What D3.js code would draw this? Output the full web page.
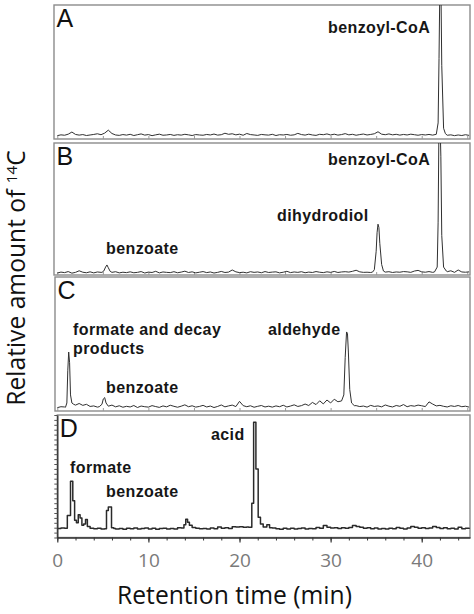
<!DOCTYPE html>
<html><head><meta charset="utf-8">
<script src="https://cdn.jsdelivr.net/npm/d3@7"></script>
<style>body{margin:0;background:#fff}</style></head>
<body><svg id="c" width="474" height="614"></svg>
<script>
// ---------- data (retention time in min, relative amount in % of panel height) ----------
const STEP = 0.4; // sampling interval of the baseline arrays (t = index * STEP)

const baseA = [2.5,3.1,2.8,3.6,5.2,3.4,2.9,3.3,2.6,3.0,
  3.4,3.9,3.2,4.4,6.6,4.1,3.0,2.7,3.3,2.9,
  3.5,2.6,3.2,3.8,2.9,3.3,2.5,3.1,3.6,2.8,
  3.0,3.4,2.7,3.2,2.9,3.5,3.1,2.6,3.3,3.0,
  2.8,3.4,3.0,3.7,2.9,3.2,4.3,3.5,3.9,3.1,
  3.6,2.8,4.1,3.3,3.0,2.7,3.4,3.1,2.9,3.5,
  2.6,3.2,3.0,3.4,2.8,3.1,4.2,3.3,2.9,3.6,
  3.0,2.7,3.5,3.2,3.8,3.0,3.6,2.9,3.3,4.0,
  3.1,3.5,2.8,3.3,3.7,3.0,3.4,3.9,5.4,3.6,
  3.2,3.8,3.1,3.5,2.9,3.4,3.0,3.6,3.2,2.8,
  3.3,3.0,3.4,2.9,3.5,3.1,3.2,2.8,3.1,2.5,3.0,2.6,3.2,2.7];
const peakA_coa_t = [41.6,41.8,41.9,42.0,42.1,42.2,42.4,42.6];
const peakA_coa_v = [3.5,12,60,120,120,55,8,4];

const baseB = [1.5,2.2,1.8,2.6,1.4,2.0,3.2,2.1,1.7,2.4,
  1.6,2.3,2.0,2.2,2.4,1.9,2.5,1.6,2.1,1.8,
  2.4,1.7,2.0,2.6,1.5,2.2,1.9,2.8,1.6,2.3,
  2.0,1.8,2.5,1.7,2.2,2.9,1.9,2.4,1.6,2.1,
  2.6,1.8,2.3,1.5,2.0,2.7,1.9,2.2,3.8,2.4,
  1.8,2.1,1.6,2.5,2.0,2.3,1.7,2.6,1.9,2.2,
  2.4,1.6,2.1,2.8,1.8,2.3,2.0,2.5,1.7,2.2,
  1.9,2.6,2.1,1.8,2.4,2.0,2.7,1.9,2.3,2.5,
  2.2,2.8,3.6,2.4,2.0,2.1,1.9,2.3,1.8,2.2,
  2.0,2.5,1.9,2.3,2.1,2.6,2.4,2.0,3.0,3.5,
  2.4,2.1,2.6,2.0,2.3,2.7,2.2,2.5,3.2,2.0,3.8,2.3,2.1,2.4];
const peakB_benz_t = [4.9,5.1,5.3,5.45,5.6,5.8,6.0];
const peakB_benz_v = [2.0,3.0,6.0,7.6,5.5,2.8,2.0];
const peakB_diol_t = [34.6,34.8,35.0,35.1,35.2,35.3,35.4,35.6,35.8,36.0];
const peakB_diol_v = [2.2,4,18,32,38.5,36,24,8,3,2.2];
const peakB_coa_t = [41.4,41.7,41.8,41.9,42.0,42.1,42.2,42.4,42.7];
const peakB_coa_v = [2.3,6,40,120,120,90,30,6,3];

const baseC = [2.5,3.2,3.0,3.0,3.0,3.0,5.6,4.2,5.0,3.4,
  3.8,2.9,3.0,3.0,3.6,4.4,3.1,3.9,2.8,3.5,
  3.0,4.1,2.6,3.7,3.2,2.9,4.0,3.3,2.7,3.8,
  3.1,4.3,3.5,2.8,3.6,4.6,3.2,3.9,2.9,3.4,
  4.2,3.0,3.7,2.6,3.4,4.5,3.1,3.8,4.4,3.3,
  7.2,4.0,3.2,3.9,2.8,3.5,4.1,3.0,3.6,2.9,
  3.8,3.2,4.3,3.0,3.7,4.6,3.4,4.0,5.2,4.1,
  6.4,4.8,7.6,5.3,8.2,6.0,8.8,6.9,7.0,7.0,
  3.0,3.0,4.0,3.3,3.7,2.9,4.2,3.4,3.8,3.1,
  4.5,3.6,3.0,4.1,3.5,4.8,3.2,4.0,3.6,4.4,
  3.9,3.3,6.8,5.2,3.8,4.2,3.5,3.0,3.9,3.4,4.1,3.2,3.6,2.9];
const peakC_form_t = [0.9,1.05,1.15,1.25,1.35,1.45,1.6,1.8,2.0];
const peakC_form_v = [2.8,6,30,44,36,12,6,5,4.4];
const peakC_benz_t = [4.6,4.9,5.05,5.2,5.35,5.6];
const peakC_benz_v = [3.2,5,9,10,6,3.6];
const peakC_ald_t = [31.2,31.45,31.6,31.75,31.85,31.95,32.1,32.3,32.6];
const peakC_ald_v = [7.5,12,40,59,58,44,16,6,4];

const baseD = [7.4,7.8,7.5,7.5,7.5,7.5,7.5,7.5,7.5,7.5,
  7.2,7.6,7.0,7.0,7.0,7.0,7.0,7.4,6.8,7.5,
  7.1,7.7,6.9,7.4,7.8,7.0,7.5,6.8,7.3,7.6,
  7.0,7.4,6.9,8.0,7.0,7.0,7.0,7.0,7.6,7.1,
  7.4,6.9,7.8,7.2,8.6,7.5,7.9,7.3,8.8,8.5,
  8.7,8.4,8.6,8.4,8.4,8.4,8.4,8.4,8.4,7.8,
  7.2,6.8,7.5,7.0,7.6,6.9,7.3,7.8,7.0,7.4,
  7.1,8.2,7.6,9.8,8.4,7.7,8.0,7.3,7.9,7.5,
  8.2,9.8,8.9,8.3,7.6,8.0,7.2,7.7,6.9,7.4,
  7.0,7.6,7.2,8.1,7.5,6.9,7.7,8.9,8.3,7.5,
  8.0,7.3,7.8,8.9,8.2,7.4,7.9,7.1,7.6,6.9,8.3,7.2,7.5,7.0];
const peakD_form_t = [0.9,1.1,1.45,1.7,1.9,2.1,2.3,2.5,2.7,2.9,3.1,3.3,3.6];
const peakD_form_v = [7.6,18,46,30,14,12,18.6,16,10,11,14.7,9,7.5];
const peakD_benz_t = [5.2,5.4,5.6,5.95,6.2];
const peakD_benz_v = [7.2,22,25,8,7.3];
const peakD_x_t = [13.6,13.9,14.1,14.3,14.5,14.8];
const peakD_x_v = [7.8,10.5,15,12.5,10,8.2];
const peakD_acid_t = [21.0,21.35,21.55,21.8,22.05,22.3,22.6,23.0,23.3];
const peakD_acid_v = [8.4,28,94,56,16.6,11,8.5,10.5,8.0];

const panelLetters = ["A","B","C","D"];
const xMajorTicks = [0,10,20,30,40];
const xTitle = "Retention time (min)";

// ---------- build series ----------
function series(base, peaks){
  const pts = [];
  base.forEach((v,i)=>{
    const t = +(i*STEP).toFixed(2);
    if(!peaks.some(p=>t>=p[0][0] && t<=p[0][p[0].length-1])) pts.push([t,v]);
  });
  peaks.forEach(p=>p[0].forEach((t,i)=>pts.push([t,p[1][i]])));
  return pts.sort((a,b)=>a[0]-b[0]);
}
const dataA = series(baseA,[[peakA_coa_t,peakA_coa_v]]);
const dataB = series(baseB,[[peakB_benz_t,peakB_benz_v],[peakB_diol_t,peakB_diol_v],[peakB_coa_t,peakB_coa_v]]);
const dataC = series(baseC,[[peakC_form_t,peakC_form_v],[peakC_benz_t,peakC_benz_v],[peakC_ald_t,peakC_ald_v]]);
const dataD = series(baseD,[[peakD_form_t,peakD_form_v],[peakD_benz_t,peakD_benz_v],[peakD_x_t,peakD_x_v],[peakD_acid_t,peakD_acid_v]]);

// ---------- layout ----------
const svg = d3.select("#c");
const x = d3.scaleLinear().domain([0,45.3]).range([57.3,470]);
const panels = [
  {key:"A", data:dataA, top:5,   bottom:139, left:54, step:false,
   labels:[["benzoyl-CoA",328,33]]},
  {key:"B", data:dataB, top:143, bottom:275, left:54, step:false,
   labels:[["benzoyl-CoA",328,165],["dihydrodiol",277,221],["benzoate",106,254]]},
  {key:"C", data:dataC, top:277, bottom:411, left:55, step:false,
   labels:[["formate and decay",73,335],["products",73,354],["aldehyde",268,335],["benzoate",106,393]]},
  {key:"D", data:dataD, top:415, bottom:537.5, left:57.3, step:true,
   labels:[["acid",211,440],["formate",70,473],["benzoate",106,497]]}
];

panels.forEach((p,pi)=>{
  const y = d3.scaleLinear().domain([0,100]).range([p.bottom,p.top]);
  const g = svg.append("g");
  const cid = "clip"+p.key;
  svg.append("clipPath").attr("id",cid).append("rect")
    .attr("x",p.left).attr("y",p.top).attr("width",470-p.left).attr("height",p.bottom-p.top);
  // frame
  g.append("rect").attr("x",p.left).attr("y",p.top).attr("width",470-p.left).attr("height",p.bottom-p.top)
    .attr("fill","none").attr("stroke","#8c8c8c").attr("stroke-width",1.4);
  if(!p.step){
    const ax = d3.axisTop(x).tickValues(d3.range(0,46,5)).tickSize(3).tickFormat("");
    const ag = g.append("g").attr("transform",`translate(0,${p.bottom})`).call(ax);
    ag.select(".domain").remove();
    ag.selectAll("line").attr("stroke","#999");
  }
  // trace
  const line = d3.line().x(d=>x(d[0])).y(d=>y(d[1]))
    .curve(p.step ? d3.curveStepAfter : d3.curveLinear);
  g.append("path").datum(p.data).attr("clip-path",`url(#${cid})`)
    .attr("d",line).attr("fill","none")
    .attr("stroke", p.step ? "#2a2a2a" : "#303030")
    .attr("stroke-width", p.step ? 1.5 : 1.0)
    .attr("stroke-linejoin","round");
  // panel letter
  g.append("text").attr("x",p.left+2.5).attr("y",p.top+22)
    .attr("font-family","'Liberation Sans', Arial, sans-serif").attr("font-size",25)
    .attr("fill","#111").text(panelLetters[pi]);
  // annotations
  p.labels.forEach(l=>{
    g.append("text").attr("x",l[1]).attr("y",l[2])
      .attr("font-family","'Liberation Sans', Arial, sans-serif").attr("font-weight","bold")
      .attr("font-size",16).attr("letter-spacing","0.4px").attr("fill","#161616").text(l[0]);
  });
  if(p.step){
    // bottom axis
    const axMinor = d3.axisBottom(x).tickValues(d3.range(0,46,2)).tickSize(3).tickFormat("").tickSizeOuter(0);
    const gm = g.append("g").attr("transform",`translate(0,${p.bottom})`).call(axMinor);
    gm.select(".domain").attr("stroke","#333").attr("stroke-width",1.4);
    gm.selectAll("line").attr("stroke","#333");
    const axMajor = d3.axisBottom(x).tickValues(xMajorTicks).tickSize(5).tickPadding(4)
      .tickFormat(d3.format("d")).tickSizeOuter(0);
    const gM = g.append("g").attr("transform",`translate(0,${p.bottom})`).call(axMajor);
    gM.select(".domain").remove();
    gM.selectAll("line").attr("stroke","#333").attr("stroke-width",1.2);
    gM.selectAll("text").attr("font-family","'Open Sans', sans-serif").attr("font-size",19)
      .attr("fill","#7a7a7a").attr("dy",null).attr("y",null)
      .attr("transform","translate(0,29)");
    // left axis
    const ayl = d3.axisLeft(y).tickValues(d3.range(0,101,4)).tickSize(3).tickFormat("").tickSizeOuter(0);
    const gl = g.append("g").attr("transform",`translate(${p.left},0)`).call(ayl);
    gl.select(".domain").attr("stroke","#333").attr("stroke-width",1.4);
    gl.selectAll("line").attr("stroke","#555");
  }
});

// ---------- axis titles ----------
function fit(sel, target){
  const fs = +sel.attr("font-size");
  const w = sel.node().getComputedTextLength();
  sel.attr("font-size", fs*target/w);
}
const xt = svg.append("text").attr("x",234.5).attr("y",604).attr("text-anchor","middle")
  .attr("font-family","'Open Sans', sans-serif").attr("font-size",26).attr("fill","#111").text(xTitle);
fit(xt,235);

const yt = svg.append("text").attr("transform","translate(25,278) rotate(-90)").attr("text-anchor","middle")
  .attr("font-family","'Open Sans', sans-serif").attr("font-size",22).attr("fill","#111");
yt.append("tspan").text("Relative amount of ");
yt.append("tspan").attr("font-size","0.62em").attr("dy","-0.55em").text("14");
yt.append("tspan").attr("dy","0.34em").text("C");
(function(){
  const w = yt.node().getBBox().width;
  yt.attr("font-size", 22*256/w);
})();
</script>
</body></html>
